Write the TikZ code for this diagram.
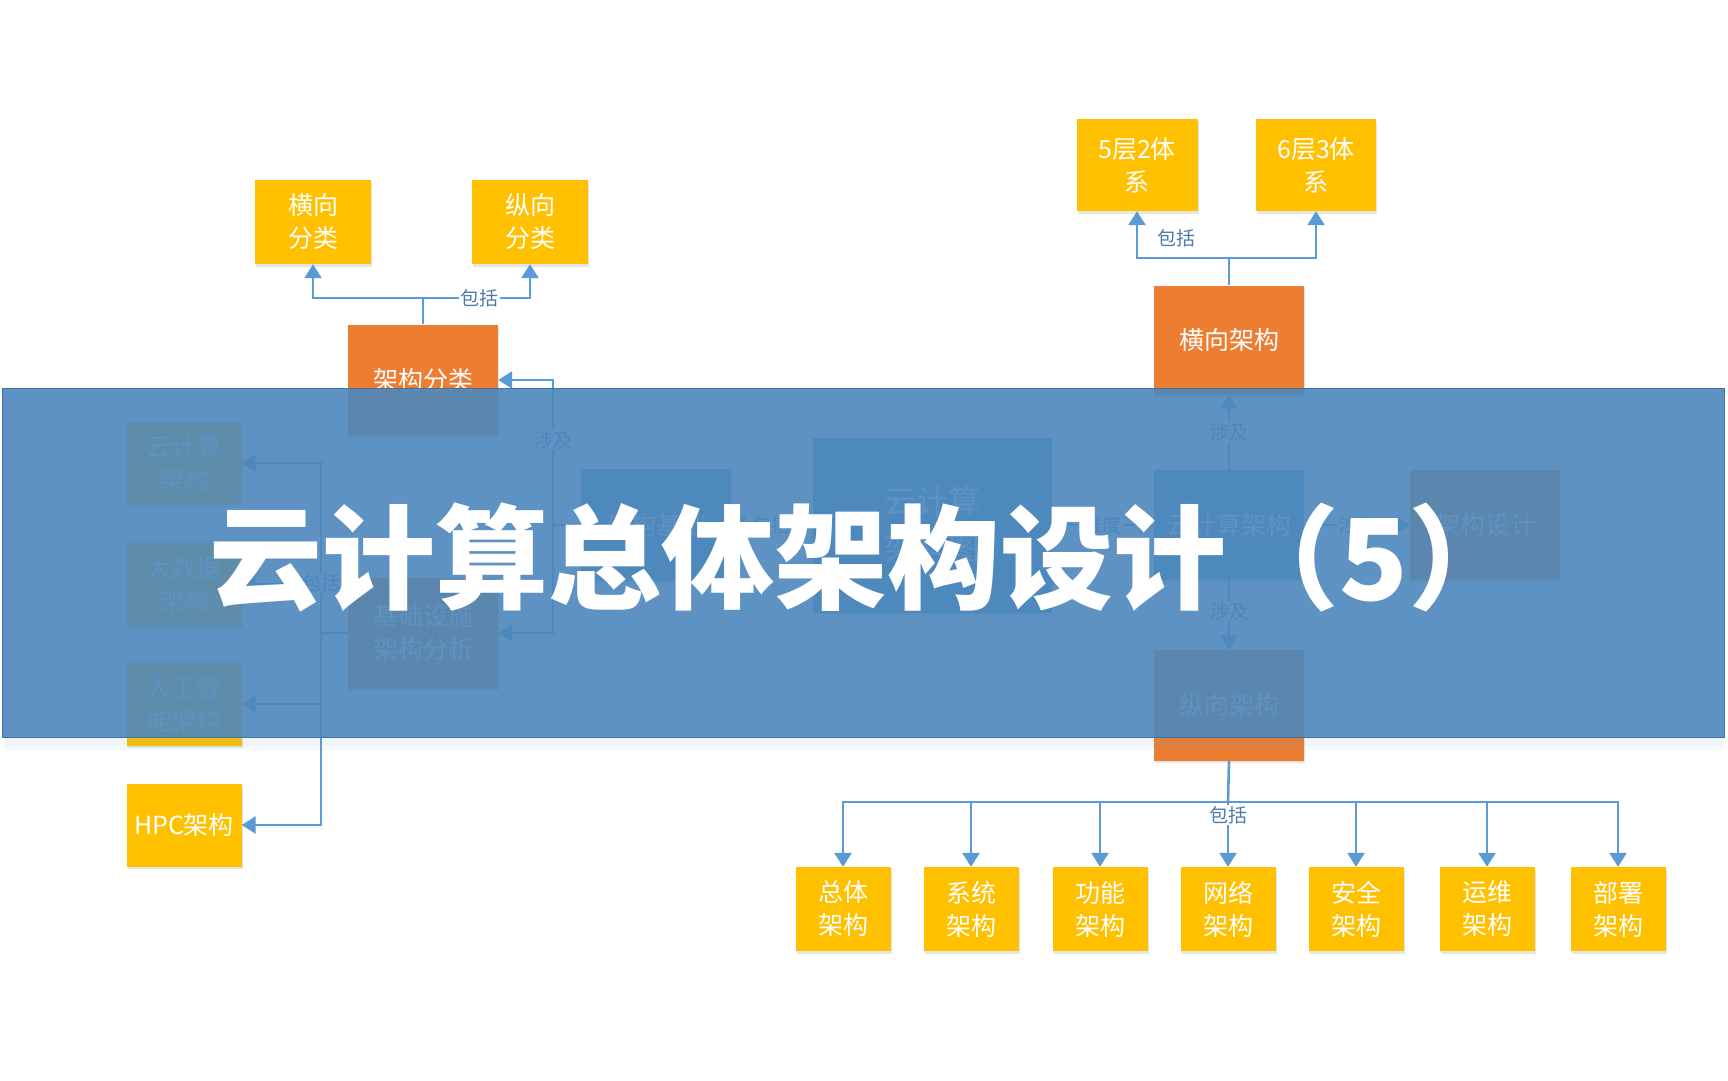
\documentclass[tikz,border=0pt]{standalone}
\usepackage{fontspec}
\setmainfont{Noto Sans CJK SC}
\usetikzlibrary{arrows.meta,shadows}
\definecolor{ylw}{RGB}{255,192,0}
\definecolor{org}{RGB}{237,125,49}
\definecolor{blu}{RGB}{91,155,213}
\definecolor{lnc}{RGB}{91,155,213}
\definecolor{lbc}{RGB}{79,121,170}
\definecolor{bnr}{RGB}{77,136,188}
\definecolor{bnrd}{RGB}{65,113,160}
\tikzset{
  box/.style={draw=none, text=white, inner sep=0pt, align=center,
    font=\fontsize{25}{33}\selectfont,
    drop shadow={shadow xshift=1pt, shadow yshift=-2.5pt, opacity=0.1, fill=black}},
  ybox/.style={box, fill=ylw},
  obox/.style={box, fill=org},
  bbox/.style={box, fill=blu},
  cline/.style={draw=lnc, line width=2.6pt},
  arr/.style={cline, -{Triangle[width=17pt,length=14pt]}},
  lbl/.style={fill=white, text=lbc, inner sep=1.5pt, font=\fontsize{19}{22}\selectfont},
}
\begin{document}
\begin{tikzpicture}[x=1pt,y=-1pt]
\useasboundingbox (0,0) rectangle (1728,1080);
\fill[white] (0,0) rectangle (1728,1080);

% ---------- left group ----------
\node[ybox, minimum width=116pt, minimum height=84pt] (hx) at (313,222) {横向\\分类};
\node[ybox, minimum width=116pt, minimum height=84pt] (zx) at (530,222) {纵向\\分类};
\node[obox, minimum width=150pt, minimum height=111pt] (jg) at (423,380) {架构分类};
\node[obox, minimum width=150pt, minimum height=111pt] (jc) at (423,633) {基础设施\\架构分析};
\node[ybox, minimum width=115pt, minimum height=83pt] (y1) at (184,463) {云计算\\架构};
\node[ybox, minimum width=115pt, minimum height=83pt] (y2) at (184,584) {大数据\\架构};
\node[ybox, minimum width=115pt, minimum height=83pt] (y3) at (184,704) {人工智\\能架构};
\node[ybox, minimum width=115pt, minimum height=83pt] (y4) at (184,825) {HPC架构};

\coordinate (j1) at (423,298);
\draw[cline] (jg.north) -- (j1);
\draw[arr] (j1) -| (hx.south);
\draw[arr] (j1) -| (zx.south);
\node[lbl] (l1) at (479,298) {包括};

\coordinate (k1) at (321,633);
\draw[cline] (jc.west) -- (k1);
\draw[arr] (k1) |- (y1.east);
\draw[arr] (k1) |- (y2.east);
\draw[arr] (k1) |- (y3.east);
\draw[arr] (k1) |- (y4.east);
\node[lbl] (l2) at (321,583) {包括};

% ---------- centre ----------
\node[bbox, minimum width=150pt, minimum height=112pt] (b2) at (656,525) {架构基础};
\node[bbox, minimum width=239pt, minimum height=175pt, font=\fontsize{32}{47}\selectfont] (cen) at (932,525) {云计算\\架构图};
\coordinate (m1) at (553,525);
\draw[cline] (b2.west) -- (m1);
\draw[arr] (m1) |- (jg.east);
\draw[arr] (m1) |- (jc.east);
\node[lbl] (l3) at (553,440) {涉及};
\draw[arr] (cen.west) -- (b2.east) node[lbl, midway] (l4) {包括};

% ---------- right group ----------
\node[bbox, minimum width=150pt, minimum height=110pt] (ya) at (1229,525) {云计算架构};
\node[obox, minimum width=150pt, minimum height=110pt] (sj) at (1485,525) {架构设计};
\node[obox, minimum width=150pt, minimum height=109pt] (hj) at (1229,340) {横向架构};
\node[obox, minimum width=150pt, minimum height=111pt] (zj) at (1229,705) {纵向架构};
\node[ybox, minimum width=121pt, minimum height=92pt] (t1) at (1137,165) {5层2体\\系};
\node[ybox, minimum width=120pt, minimum height=92pt] (t2) at (1316,165) {6层3体\\系};

\draw[arr] (cen.east) -- (ya.west) node[lbl, midway] (l5) {维度};
\draw[arr] (ya.north) -- (hj.south) node[lbl, pos=0.5] (l6) {涉及};
\draw[arr] (ya.south) -- (zj.north) node[lbl, pos=0.45] (l7) {涉及};
\draw[arr] (ya.east) -- (sj.west) node[lbl, midway] (l8) {涉及};

\coordinate (tj) at (1229,258);
\draw[cline] (hj.north) -- (tj);
\draw[arr] (tj) -| (t1.south);
\draw[arr] (tj) -| (t2.south);
\node[lbl, fill=none] (l9) at (1176,238) {包括};

% ---------- bottom group ----------
\foreach \n/\x/\t in {p1/843/总体\\架构, p2/971/系统\\架构, p3/1100/功能\\架构, p4/1228/网络\\架构, p5/1356/安全\\架构, p6/1487/运维\\架构, p7/1618/部署\\架构}{
  \node[ybox, minimum width=95pt, minimum height=84pt] (\n) at (\x,909) {\t};
}
\coordinate (bj) at (1228,802);
\draw[cline] (zj.south) -- (bj);
\foreach \n in {p1,p2,p3,p5,p6,p7}{ \draw[arr] (bj) -| (\n.north); }
\draw[arr] (bj) -- (p4.north);
\node[lbl] (l10) at (1228,815) {包括};

% ---------- banner ----------
\fill[blu, opacity=0.10] (4,737) rectangle (1724,745);
\fill[blu, opacity=0.06] (4,745) rectangle (1724,750);
\fill[bnr, fill opacity=0.91] (2,388) rectangle (1724,737);
\draw[bnrd, line width=1pt] (2,388) rectangle (1724,737);
\node[anchor=base west, text=white, inner sep=0pt, font=\fontsize{113}{120}\selectfont\bfseries] (title) at (209,600) {云计算总体架构设计（5）};
\end{tikzpicture}
\end{document}
